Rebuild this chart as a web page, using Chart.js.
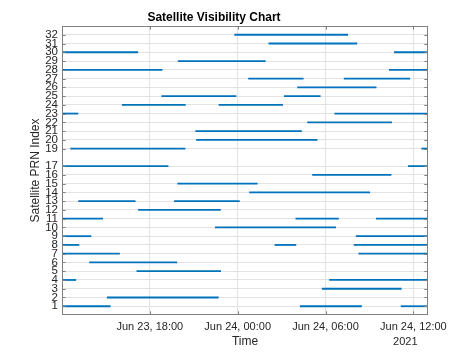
<!DOCTYPE html>
<html><head><meta charset="utf-8">
<script src="https://cdn.jsdelivr.net/npm/chart.js@4"></script>
<style>html,body{margin:0;padding:0;background:#fff}</style>
</head><body>
<canvas id="c" width="474" height="355" style="width:474px;height:355px;display:block"></canvas>
<script>
// Y ticks: PRN indices present (18 absent)
const prnTicks = [1,2,3,4,5,6,7,8,9,10,11,12,13,14,15,16,17,19,20,21,22,23,24,25,26,27,28,29,30,31,32];
// X axis in hours since Jun 23, 2021 12:00
const xTickHours = [6, 12, 18, 24];
const xTickLabels = ['Jun 23, 18:00', 'Jun 24, 00:00', 'Jun 24, 06:00', 'Jun 24, 12:00'];
const yearLabel = '2021';
// visibility passes
const passPrn   = [1,1,1, 2, 3, 4,4, 5, 6, 7,7, 8,8,8, 9,9, 10, 11,11,11, 12, 13,13, 14, 15, 16, 17,17, 19,19, 20, 21, 22, 23,23, 24,24, 25,25, 26, 27,27, 28,28, 29, 30,30, 31, 32];
const passStart = [0,16.25,23.14, 3.07, 17.75, 0,18.25, 5.09, 1.86, 0,20.25, 0,14.52,19.93, 0,20.07, 10.45, 0,15.95,21.45, 5.20, 1.11,7.66, 12.79, 7.88, 17.09, 0,23.63, 0.57,24.55, 9.16, 9.11, 16.75, 0,18.61, 4.09,10.70, 6.79,15.16, 16.07, 12.72,19.25, 0,22.34, 7.91, 0,22.68, 14.11, 11.77];
const passEnd   = [3.32,20.48,25, 10.70, 23.20, 0.97,25, 10.86, 7.86, 3.95,25, 1.18,16.00,25, 2.00,25, 18.72, 2.80,18.91,25, 10.84, 5.02,12.14, 21.04, 13.36, 22.50, 7.27,25, 8.43,25, 17.45, 16.38, 22.54, 1.11,25, 8.45,15.09, 11.91,17.66, 21.48, 16.50,23.77, 6.86,25, 13.91, 5.20,25, 20.16, 19.54];
const xMin = 0, xMax = 25, yMin = 0, yMax = 33;

const FONT = "'Liberation Sans', Arial, Helvetica, sans-serif";
const TXT = '#262626';

const datasets = passPrn.map((p, i) => ({
  data: [{x: passStart[i], y: p}, {x: passEnd[i], y: p}],
  borderColor: '#0072BD',
  borderWidth: 1.8,
  pointRadius: 0,
  fill: false,
  tension: 0
}));

const boxPlugin = {
  id: 'box',
  afterDraw(chart) {
    const {ctx, chartArea: a, scales: {x, y}} = chart;
    ctx.save();
    ctx.strokeStyle = '#808080';
    ctx.lineWidth = 1;
    ctx.strokeRect(Math.round(a.left) + 0.5, Math.round(a.top) + 0.5,
      Math.round(a.right) - Math.round(a.left) - 1, Math.round(a.bottom) - Math.round(a.top) - 1);
    const L = 3.7;
    ctx.beginPath();
    y.ticks.forEach(t => {
      const p = Math.round(y.getPixelForValue(t.value)) + 0.5;
      ctx.moveTo(a.left, p); ctx.lineTo(a.left + L, p);
      ctx.moveTo(a.right, p); ctx.lineTo(a.right - L, p);
    });
    x.ticks.forEach(t => {
      const p = Math.round(x.getPixelForValue(t.value)) + 0.5;
      ctx.moveTo(p, a.bottom); ctx.lineTo(p, a.bottom - L);
      ctx.moveTo(p, a.top); ctx.lineTo(p, a.top + L);
    });
    ctx.stroke();
    ctx.fillStyle = TXT;
    ctx.font = '11px ' + FONT;
    ctx.textAlign = 'center';
    ctx.textBaseline = 'middle';
    ctx.fillText(yearLabel, x.getPixelForValue(xTickHours[xTickHours.length - 1]) - 8, 341.7);
    ctx.restore();
  }
};

new Chart(document.getElementById('c'), {
  type: 'line',
  data: {datasets},
  plugins: [boxPlugin],
  options: {
    responsive: false,
    animation: false,
    devicePixelRatio: 1,
    layout: {padding: {left: 0, right: 46, top: 0, bottom: 0}},
    plugins: {
      legend: {display: false},
      tooltip: {enabled: false},
      title: {
        display: true,
        text: 'Satellite Visibility Chart',
        color: '#000',
        font: {family: FONT, size: 12, weight: 'bold'},
        padding: {top: 10, bottom: 1.6}
      }
    },
    scales: {
      x: {
        type: 'linear',
        min: xMin, max: xMax,
        afterBuildTicks: s => { s.ticks = xTickHours.map(v => ({value: v})); },
        afterFit: s => { s.height = 40; },
        ticks: {
          autoSkip: false, maxRotation: 0,
          color: TXT, font: {family: FONT, size: 11}, padding: 5,
          callback: v => xTickLabels[xTickHours.indexOf(v)]
        },
        grid: {color: '#e3e3e3', drawTicks: false},
        border: {display: false},
        title: {display: true, text: 'Time', color: TXT, font: {family: FONT, size: 12}, padding: {top: 0, bottom: 6}}
      },
      y: {
        type: 'linear',
        min: yMin, max: yMax,
        afterBuildTicks: s => { s.ticks = prnTicks.map(v => ({value: v})); },
        afterFit: s => { s.width = 62; },
        ticks: {
          autoSkip: false,
          color: TXT, font: {family: FONT, size: 11.5}, padding: 4,
          callback: v => String(v)
        },
        grid: {color: '#e3e3e3', drawTicks: false},
        border: {display: false},
        title: {display: true, text: 'Satellite PRN Index', color: TXT, font: {family: FONT, size: 12}, padding: {top: 28, bottom: 0}}
      }
    }
  }
});
</script>
</body></html>
